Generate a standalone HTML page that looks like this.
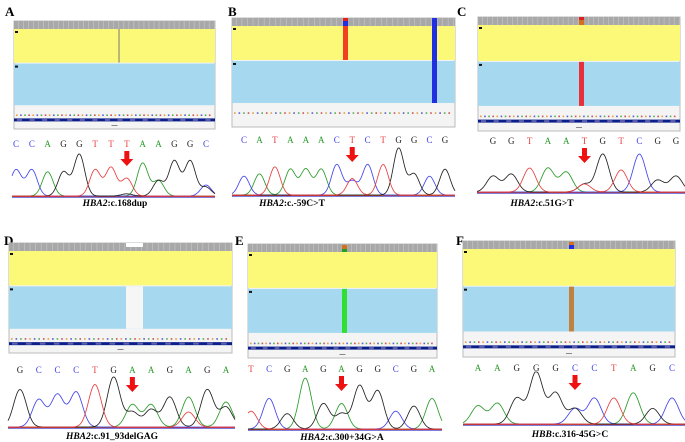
<!DOCTYPE html>
<html><head><meta charset="utf-8">
<style>
body{margin:0;background:#fff;}
svg{display:block;font-family:"Liberation Serif",serif;}
</style></head>
<body>
<svg id="fig" width="685" height="442" viewBox="0 0 685 442"></svg>
<script>
const NS="http://www.w3.org/2000/svg";
const svg=document.getElementById('fig');
// ---- data ----
const panelLabels=["A","B","C","D","E","F"];
const captionGenes=["HBA2","HBA2","HBA2","HBA2","HBA2","HBB"];
const captionVariants=[":c.168dup",":c.-59C>T",":c.51G>T",":c.91_93delGAG",":c.300+34G>A",":c.316-45G>C"];
const seqA="CCAGGTTTAAGGC", htA=[.6,.6,.55,.55,.95,.6,.65,.4,.75,.35,.8,.8,.25];
const seqB="CATAAACTCTGGCG", htB=[.4,.45,.6,.55,.55,.55,.65,.35,.65,.65,1,.45,.4,.55];
const seqC="GGTAATGTCGG", htC=[.4,.45,.6,.6,.5,.2,.95,.55,.95,.3,.4];
const seqD="GCCCTGAAGAGA", htD=[.75,.55,.65,.7,.85,1,.45,.45,.6,.6,.75,.5];
const seqE="TCGAGAGGCGA", htE=[.35,.6,.3,1,.5,.5,.85,.75,.35,.45,.6];
const seqF="AAGGGCCTAGC", htF=[.35,.4,.5,1,.6,.3,.5,.5,.6,.3,.5];
const secA=[[7,"G",.05],[9,"G",.35],[12,"G",.2]];
const secB=[[7,"C",.3]];
const secC=[[5,"G",.2]];
const secD=[[6,"G",.3],[7,"G",.35],[9,"T",.3],[11,"G",.4]];
const secE=[[5,"G",.3]];
const secF=[[5,"G",.3]];
const mutIdx=[7,7,5,6,5,5];
// ---- layout ----
const L=[
 {lx:5,ly:16,box:[14,21,215,129],seq:seqA,ht:htA,sec:secA,cx:[12,215],ly2:147,top:152,base:196,ox:[16,206],cap:[115,206]},
 {lx:228,ly:16,box:[232,18,455,127],seq:seqB,ht:htB,sec:secB,cx:[232,455],ly2:143,top:148,base:195,ox:[244,445],cap:[292,206]},
 {lx:457,ly:16,box:[478,17,680,131],seq:seqC,ht:htC,sec:secC,cx:[477,685],ly2:144,top:152,base:192,ox:[493,676],cap:[542,206]},
 {lx:4,ly:245,box:[9,243,232,353],seq:seqD,ht:htD,sec:secD,cx:[8,235],ly2:373,top:377,base:427,ox:[20,226],cap:[112,439]},
 {lx:235,ly:245,box:[248,244,437,358],seq:seqE,ht:htE,sec:secE,cx:[248,442],ly2:372,top:378,base:429,ox:[251,432],cap:[342,440]},
 {lx:456,ly:245,box:[463,241,675,357],seq:seqF,ht:htF,sec:secF,cx:[463,685],ly2:371,top:372,base:424,ox:[478,672],cap:[570,437]}
];
const baseCol={A:"#2a9a2a",C:"#4444ee",G:"#222",T:"#e84040"};
function el(t,a,p){const e=document.createElementNS(NS,t);for(const k in a)e.setAttribute(k,a[k]);(p||svg).appendChild(e);return e;}
function rect(g,x,y,w,h,f){return el('rect',{x:x,y:y,width:w,height:h,fill:f},g);}

L.forEach((p,i)=>{
 const g=el('g',{});
 
 
 const lab=el('text',{x:p.lx,y:p.ly,'font-size':13,'font-weight':'bold'},g);lab.textContent=panelLabels[i];
 
 
 const [x0,y0,x1,y1]=p.box, W=x1-x0, H=y1-y0;
 const ig=el('g',{},g);
 
 
 rect(ig,x0,y0,W,H,"#f4f4f4").setAttribute('stroke','#bbb');
 rect(ig,x0,y0,W,8,"#a8a8a8");
 for(let xx=x0+4;xx<x1;xx+=W/40) rect(ig,xx,y0,0.6,8,"#c8c8c8");
 const yE=y0+0.385*H, bE=y0+0.78*H;
 rect(ig,x0,y0+8,W,yE-y0-8,"#fbf977");
 rect(ig,x0,yE+1,W,bE-yE-1,"#a6d9ef");
 rect(ig,x0+1,y0+10,3,2,"#111");rect(ig,x0+1,yE+3,3,2,"#111");
 const sy=y0+0.865*H;
 for(let k=0;k<48;k++){rect(ig,x0+2+k*(W-4)/48,sy,1.6,1.6,["#e0a040","#5a5ad0","#50b050","#d05050"][k%4]);}
 if(i!==1){rect(ig,x0,sy+4,W,3,"#0a1f8a");for(let k=0;k<16;k++)rect(ig,x0+k*W/16+3,sy+4.5,W/40,2,"#6060b0");rect(ig,x0+W/2-3,y1-4,6,1,"#888");}
 if(i===0){rect(ig,x0+W*0.52,y0+8,1,yE-y0-8,"#777");}
 if(i===1){rect(ig,343,y0,5,3,"#e02020");rect(ig,343,y0+3,5,5,"#1f2fe0");rect(ig,343,y0+8,5,yE-y0-8,"#f04020");
   rect(ig,432,y0,5,bE-y0,"#2030e0");}
 if(i===2){rect(ig,579,y0,5,3,"#e02020");rect(ig,579,y0+3,5,5,"#d07020");rect(ig,579,yE+1,5,bE-yE-1,"#e8303a");}
 if(i===3){rect(ig,126,y0,17,4,"#fff");rect(ig,126,yE+1,17,bE-yE-1,"#f6f6f6");}
 if(i===4){rect(ig,342,y0+1,5,4,"#d07020");rect(ig,342,y0+5,5,3,"#20a020");rect(ig,342,yE+1,5,bE-yE-1,"#30e030");}
 if(i===5){rect(ig,569,y0+1,5,3,"#d07020");rect(ig,569,y0+4,5,4,"#1f2fe0");rect(ig,569,yE+1,5,bE-yE-1,"#c08040");}
 const n=p.seq.length;
 const xs=k=>p.ox[0]+(p.ox[1]-p.ox[0])*k/(n-1);
 const yv=v=>p.base-v*(p.base-p.top);
 const sig=(p.ox[1]-p.ox[0])/(n-1)*0.34;
 const cg=el('g',{},g);
 
 
 for(let k=0;k<n;k++){const t=el('text',{x:xs(k),y:p.ly2,'font-size':9,'text-anchor':'middle',fill:baseCol[p.seq[k]]},cg);t.textContent=p.seq[k];
   
   }
 el('line',{x1:p.cx[0],x2:p.cx[1],y1:p.base+0.5,y2:p.base+0.5,stroke:"#d03030",'stroke-width':1},cg);
 el('line',{x1:p.cx[0],x2:p.cx[1],y1:p.base+1.3,y2:p.base+1.3,stroke:"#3030c0",'stroke-width':0.6},cg);
 ["A","C","G","T"].forEach(b=>{
   const pk=[];
   for(let k=0;k<n;k++) if(p.seq[k]===b) pk.push([xs(k),p.ht[k]]);
   p.sec.forEach(s=>{if(s[1]===b) pk.push([xs(s[0]),s[2]]);});
   if(!pk.length) return;
   let d="";
   for(let x=p.cx[0];x<=p.cx[1];x+=1){let v=0;pk.forEach(q=>{v+=q[1]*Math.exp(-Math.pow((x-q[0])/sig,2)/2);});d+=(d?"L":"M")+x+","+yv(Math.min(v,1.0)).toFixed(1);}
   const pa=el('path',{d:d,fill:"none",stroke:baseCol[b],'stroke-width':0.85},cg);
   
   
 });
 const ax=xs(mutIdx[i]), ay=p.ly2+4;
 const ar=el('path',{d:`M${ax-2.5},${ay}h5v8h4l-6.5,7l-6.5,-7h4z`,fill:"#ee1111"},g);
 
 
 const c=el('text',{x:p.cap[0],y:p.cap[1],'font-size':9.5,'font-weight':'bold','text-anchor':'middle'},g);
 
 
 const t1=el('tspan',{'font-style':'italic'},c);t1.textContent=captionGenes[i];
 const t2=el('tspan',{},c);t2.textContent=captionVariants[i];
});
</script>
</body></html>
